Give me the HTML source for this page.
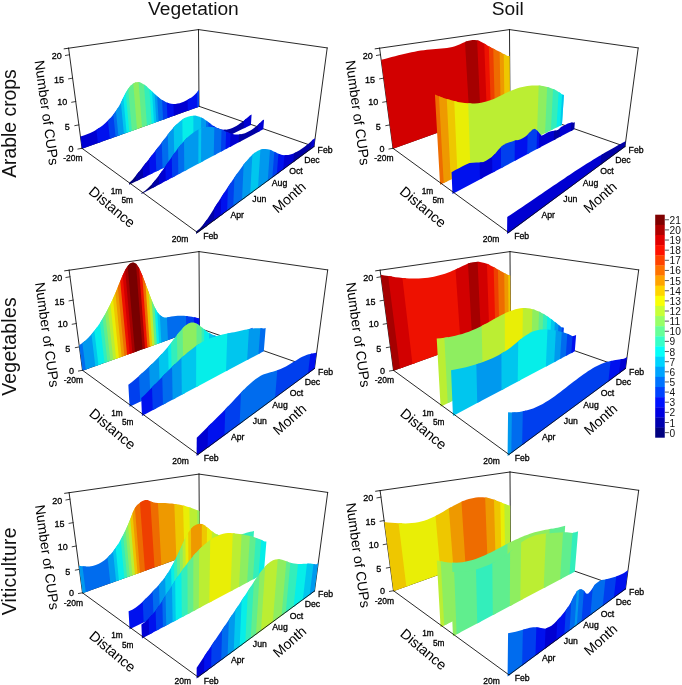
<!DOCTYPE html>
<html><head><meta charset="utf-8"><title>CUPs</title>
<style>html,body{margin:0;padding:0;background:#fff}svg{display:block}</style></head>
<body><svg width="682" height="685" viewBox="0 0 682 685">
<rect width="682" height="685" fill="#fff"/>
<g transform="translate(0.0,0.0)">
<line x1="68.60" y1="48.20" x2="82.00" y2="148.30" stroke="#111" stroke-width="0.90" stroke-linecap="round"/>
<line x1="68.60" y1="48.20" x2="198.50" y2="29.60" stroke="#111" stroke-width="0.90" stroke-linecap="round"/>
<line x1="198.50" y1="29.60" x2="199.00" y2="106.30" stroke="#111" stroke-width="0.90" stroke-linecap="round"/>
<line x1="198.50" y1="29.60" x2="327.20" y2="47.90" stroke="#111" stroke-width="0.90" stroke-linecap="round"/>
<line x1="327.20" y1="47.90" x2="314.00" y2="146.50" stroke="#111" stroke-width="0.90" stroke-linecap="round"/>
<line x1="82.00" y1="148.30" x2="199.00" y2="106.30" stroke="#111" stroke-width="0.90" stroke-linecap="round"/>
<line x1="199.00" y1="106.30" x2="314.00" y2="146.50" stroke="#111" stroke-width="0.90" stroke-linecap="round"/>
<line x1="82.00" y1="148.30" x2="77.90" y2="149.05" stroke="#111" stroke-width="0.80" stroke-linecap="round"/>
<line x1="78.87" y1="124.91" x2="74.77" y2="125.66" stroke="#111" stroke-width="0.80" stroke-linecap="round"/>
<line x1="75.74" y1="101.52" x2="71.64" y2="102.27" stroke="#111" stroke-width="0.80" stroke-linecap="round"/>
<line x1="72.61" y1="78.14" x2="68.51" y2="78.89" stroke="#111" stroke-width="0.80" stroke-linecap="round"/>
<line x1="69.48" y1="54.75" x2="65.38" y2="55.50" stroke="#111" stroke-width="0.80" stroke-linecap="round"/>
<line x1="68.60" y1="48.20" x2="64.10" y2="48.85" stroke="#111" stroke-width="0.90" stroke-linecap="round"/>
<polygon points="82.00,148.80 80.41,136.45 83.74,135.43 87.01,134.26 90.20,132.94 93.32,131.43 96.38,129.72 99.36,127.80 100.97,141.99" fill="#0000d2"/>
<polygon points="97.92,143.08 96.38,129.72 99.36,127.80 102.28,125.65 105.14,123.26 107.93,120.61 110.66,117.68 112.75,137.76" fill="#0011ee"/>
<polygon points="109.87,138.80 107.93,120.61 110.66,117.68 113.33,114.46 115.93,110.90 118.40,135.73" fill="#003fee"/>
<polygon points="115.59,136.74 113.33,114.46 115.93,110.90 118.47,106.93 121.16,134.74" fill="#006cee"/>
<polygon points="118.40,135.73 115.93,110.90 118.47,106.93 120.95,102.49 123.36,97.62 126.59,132.79" fill="#0099ee"/>
<polygon points="123.89,133.76 120.95,102.49 123.36,97.62 125.77,92.86 129.25,131.84" fill="#00c6ee"/>
<polygon points="126.59,132.79 123.36,97.62 125.77,92.86 128.22,88.77 131.87,130.90" fill="#06eee9"/>
<polygon points="129.25,131.84 125.77,92.86 128.22,88.77 130.73,85.59 134.46,129.97" fill="#33eebb"/>
<polygon points="131.87,130.90 128.22,88.77 130.73,85.59 133.29,83.38 135.91,82.20 139.54,128.15" fill="#60ee8e"/>
<polygon points="137.02,129.05 133.29,83.38 135.91,82.20 138.58,82.07 141.29,82.88 144.49,126.37" fill="#8eee60"/>
<polygon points="142.03,127.25 138.58,82.07 141.29,82.88 144.00,84.42 146.71,86.50 149.31,124.64" fill="#60ee8e"/>
<polygon points="146.91,125.50 144.00,84.42 146.71,86.50 149.40,88.92 152.04,91.49 154.02,122.95" fill="#33eebb"/>
<polygon points="151.68,123.79 149.40,88.92 152.04,91.49 154.64,94.02 156.33,122.12" fill="#06eee9"/>
<polygon points="154.02,122.95 152.04,91.49 154.64,94.02 157.18,96.34 158.61,121.30" fill="#00c6ee"/>
<polygon points="156.33,122.12 154.64,94.02 157.18,96.34 159.65,98.33 160.86,120.49" fill="#0099ee"/>
<polygon points="158.61,121.30 157.18,96.34 159.65,98.33 162.06,100.01 164.42,101.37 165.29,118.90" fill="#006cee"/>
<polygon points="163.09,119.69 162.06,100.01 164.42,101.37 166.73,102.44 168.99,103.22 169.61,117.35" fill="#003fee"/>
<polygon points="167.46,118.12 166.73,102.44 168.99,103.22 171.20,103.71 173.37,103.93 175.49,103.89 175.90,115.09" fill="#0011ee"/>
<polygon points="173.82,115.84 173.37,103.93 175.49,103.89 177.59,103.62 179.65,103.14 181.68,102.49 183.68,101.68 185.65,100.75 187.61,99.71 189.54,98.60 189.75,110.12" fill="#0000d2"/>
<polygon points="187.84,110.81 187.61,99.71 189.54,98.60 191.45,97.39 193.34,96.01 195.21,94.36 197.06,92.35 198.89,90.12 199.00,106.80" fill="#0011ee"/>
<polygon points="197.19,107.45 197.06,92.35 198.89,90.12 199.00,106.80" fill="#003fee"/>
<polygon points="129.08,184.81 129.00,182.93 132.55,179.74 135.97,175.42 139.35,171.15 139.74,179.58" fill="#000078"/>
<polygon points="136.25,181.29 135.97,175.42 139.35,171.15 142.68,166.95 145.97,162.79 146.54,176.24" fill="#0000a5"/>
<polygon points="143.17,177.89 142.68,166.95 145.97,162.79 149.21,158.67 152.41,154.58 153.10,173.01" fill="#0000d2"/>
<polygon points="149.85,174.61 149.21,158.67 152.41,154.58 155.56,150.52 158.68,146.47 159.44,169.89" fill="#0011ee"/>
<polygon points="156.30,171.44 155.56,150.52 158.68,146.47 161.75,142.43 164.79,138.41 165.58,166.88" fill="#003fee"/>
<polygon points="162.54,168.38 161.75,142.43 164.79,138.41 167.79,134.51 170.76,130.79 171.51,163.97" fill="#006cee"/>
<polygon points="168.57,165.41 167.79,134.51 170.76,130.79 173.70,127.36 176.61,124.28 177.25,161.15" fill="#0099ee"/>
<polygon points="174.40,162.55 173.70,127.36 176.61,124.28 179.48,121.64 182.33,119.49 185.14,117.84 185.52,157.08" fill="#00c6ee"/>
<polygon points="182.81,158.42 182.33,119.49 185.14,117.84 187.92,116.66 190.65,115.95 193.34,115.68 195.99,115.84 195.97,151.95" fill="#06eee9"/>
<polygon points="193.41,153.20 193.34,115.68 195.99,115.84 198.59,116.41 201.14,117.39 203.64,118.74 203.39,148.30" fill="#00c6ee"/>
<polygon points="200.95,149.50 201.14,117.39 203.64,118.74 206.08,120.38 208.48,122.18 208.16,145.96" fill="#0099ee"/>
<polygon points="205.79,147.12 206.08,120.38 208.48,122.18 210.82,123.98 210.49,144.81" fill="#006cee"/>
<polygon points="208.16,145.96 208.48,122.18 210.82,123.98 213.12,125.66 215.38,127.09 215.06,142.57" fill="#003fee"/>
<polygon points="212.79,143.68 213.12,125.66 215.38,127.09 217.60,128.20 219.78,129.00 219.49,140.39" fill="#0011ee"/>
<polygon points="217.29,141.47 217.60,128.20 219.78,129.00 221.94,129.50 224.06,129.72 226.16,129.66 225.92,137.24" fill="#0000d2"/>
<polygon points="223.80,138.27 224.06,129.72 226.16,129.66 228.23,129.35 230.28,128.79 232.32,128.03 234.33,127.08 236.32,125.96 238.30,124.71 240.25,123.35 242.19,121.90 244.12,120.38 246.02,118.81 245.52,127.60" fill="#0000a5"/>
<polygon points="243.68,128.51 244.12,120.38 246.02,118.81 247.91,117.22 249.78,115.62 251.60,114.40 250.92,124.95" fill="#0000d2"/>
<polygon points="141.45,193.91 141.44,193.11 145.10,190.81 148.65,187.59 152.13,183.88 155.53,179.79 155.72,186.34" fill="#000078"/>
<polygon points="152.25,188.18 152.13,183.88 155.53,179.79 158.88,175.41 162.17,170.85 162.47,182.77" fill="#0000a5"/>
<polygon points="159.12,184.54 158.88,175.41 162.17,170.85 165.41,166.18 168.61,161.50 168.97,179.31" fill="#0000d2"/>
<polygon points="165.75,181.02 165.41,166.18 168.61,161.50 171.77,156.91 174.90,152.47 175.25,175.98" fill="#0011ee"/>
<polygon points="172.14,177.63 171.77,156.91 174.90,152.47 177.98,148.28 181.03,144.41 181.32,172.77" fill="#003fee"/>
<polygon points="178.31,174.36 177.98,148.28 181.03,144.41 184.04,140.94 187.02,137.86 187.18,169.66" fill="#006cee"/>
<polygon points="184.27,171.20 184.04,140.94 187.02,137.86 189.95,135.18 192.85,132.89 195.70,130.97 198.50,129.42 201.26,128.23 201.00,162.33" fill="#0099ee"/>
<polygon points="198.32,163.74 198.50,129.42 201.26,128.23 203.98,127.39 203.63,160.93" fill="#00c6ee"/>
<polygon points="201.00,162.33 201.26,128.23 203.98,127.39 206.64,126.90 209.25,126.75 211.81,126.92 214.32,127.37 216.78,128.03 216.17,154.27" fill="#0099ee"/>
<polygon points="213.74,155.56 214.32,127.37 216.78,128.03 219.18,128.86 221.54,129.79 223.85,130.76 223.25,150.52" fill="#006cee"/>
<polygon points="220.92,151.75 221.54,129.79 223.85,130.76 226.11,131.72 228.33,132.62 227.79,148.11" fill="#003fee"/>
<polygon points="225.53,149.31 226.11,131.72 228.33,132.62 230.52,133.39 232.66,134.00 232.19,145.77" fill="#0011ee"/>
<polygon points="230.01,146.94 230.52,133.39 232.66,134.00 234.78,134.39 236.87,134.56 238.93,134.51 240.97,134.25 240.63,141.30" fill="#0000d2"/>
<polygon points="238.57,142.39 238.93,134.51 240.97,134.25 242.99,133.79 244.99,133.15 246.97,132.34 248.93,131.35 250.87,130.21 252.81,128.91 254.72,127.48 256.63,125.91 258.52,124.22 260.41,122.41 259.77,131.15" fill="#0000a5"/>
<polygon points="257.97,132.10 258.52,124.22 260.41,122.41 262.28,120.49 264.07,119.42 263.30,129.28" fill="#0000d2"/>
<polygon points="196.06,234.07 196.08,231.56 199.85,228.40 203.56,224.15 207.22,219.16 207.10,225.92" fill="#000078"/>
<polygon points="203.50,228.57 203.56,224.15 207.22,219.16 210.82,213.71 214.36,208.09 217.84,202.53 217.43,218.29" fill="#0000a5"/>
<polygon points="214.06,220.78 214.36,208.09 217.84,202.53 221.26,197.17 224.63,191.98 223.95,213.47" fill="#0000d2"/>
<polygon points="220.72,215.86 221.26,197.17 224.63,191.98 227.94,186.97 231.19,182.14 230.21,208.85" fill="#0011ee"/>
<polygon points="227.11,211.14 227.94,186.97 231.19,182.14 234.39,177.47 237.53,172.96 236.22,204.42" fill="#003fee"/>
<polygon points="233.24,206.61 234.39,177.47 237.53,172.96 240.62,168.64 243.66,164.60 246.63,160.89 244.79,198.09" fill="#006cee"/>
<polygon points="241.99,200.16 243.66,164.60 246.63,160.89 249.54,157.59 252.37,154.77 255.13,152.50 252.87,192.13" fill="#0099ee"/>
<polygon points="250.23,194.08 252.37,154.77 255.13,152.50 257.81,150.81 260.41,149.67 262.93,149.05 260.50,186.49" fill="#00c6ee"/>
<polygon points="258.01,188.33 260.41,149.67 262.93,149.05 265.36,148.90 267.71,149.19 269.98,149.85 272.18,150.76 270.05,179.44" fill="#0099ee"/>
<polygon points="267.73,181.16 269.98,149.85 272.18,150.76 274.32,151.80 276.41,152.84 274.57,176.10" fill="#006cee"/>
<polygon points="272.33,177.76 274.32,151.80 276.41,152.84 278.46,153.77 280.48,154.48 278.94,172.88" fill="#003fee"/>
<polygon points="276.78,174.48 278.46,153.77 280.48,154.48 282.47,154.93 284.45,155.14 286.40,155.11 285.22,168.25" fill="#0011ee"/>
<polygon points="283.16,169.77 284.45,155.14 286.40,155.11 288.33,154.89 290.25,154.48 292.14,153.90 294.02,153.17 295.88,152.30 295.01,161.02" fill="#0000d2"/>
<polygon points="293.11,162.42 294.02,153.17 295.88,152.30 297.72,151.32 299.55,150.23 301.35,149.05 303.14,147.79 304.92,146.47 306.67,145.10 308.41,143.69 310.12,142.25 311.82,140.79 313.50,139.33 312.40,148.18" fill="#0000a5"/>
<polygon points="310.78,149.38 311.82,140.79 313.50,139.33 315.12,138.13 314.00,147.00" fill="#0000d2"/>
<line x1="82.00" y1="148.30" x2="197.50" y2="232.50" stroke="#111" stroke-width="0.90" stroke-linecap="round"/>
<line x1="197.50" y1="232.50" x2="314.00" y2="146.50" stroke="#111" stroke-width="0.90" stroke-linecap="round"/>
<g fill="#000" font-family="Liberation Sans, Arial, Helvetica, sans-serif">
<text x="61.8" y="59.1" font-size="9.0" text-anchor="end" stroke="#000" stroke-width="0.3" >20</text>
<text x="64.1" y="82.6" font-size="9.0" text-anchor="end" stroke="#000" stroke-width="0.3" >15</text>
<text x="67.2" y="105.2" font-size="9.0" text-anchor="end" stroke="#000" stroke-width="0.3" >10</text>
<text x="69.8" y="130.1" font-size="9.0" text-anchor="end" stroke="#000" stroke-width="0.3" >5</text>
<text x="73.6" y="151.5" font-size="9.0" text-anchor="end" stroke="#000" stroke-width="0.3" >0</text>
<text x="72.9" y="161.4" font-size="8.5" text-anchor="middle" stroke="#000" stroke-width="0.3" >-20m</text>
<text x="116.5" y="193.9" font-size="8.3" text-anchor="middle" stroke="#000" stroke-width="0.3" >1m</text>
<text x="127.2" y="203.4" font-size="8.3" text-anchor="middle" stroke="#000" stroke-width="0.3" >5m</text>
<text x="180.0" y="241.7" font-size="8.5" text-anchor="middle" stroke="#000" stroke-width="0.3" >20m</text>
<text x="210.7" y="239.1" font-size="8.7" text-anchor="middle" stroke="#000" stroke-width="0.3" >Feb</text>
<text x="237.2" y="218.4" font-size="8.7" text-anchor="middle" stroke="#000" stroke-width="0.3" >Apr</text>
<text x="259.3" y="202.1" font-size="8.7" text-anchor="middle" stroke="#000" stroke-width="0.3" >Jun</text>
<text x="279.5" y="185.7" font-size="8.7" text-anchor="middle" stroke="#000" stroke-width="0.3" >Aug</text>
<text x="295.9" y="174.4" font-size="8.7" text-anchor="middle" stroke="#000" stroke-width="0.3" >Oct</text>
<text x="312.0" y="162.6" font-size="8.7" text-anchor="middle" stroke="#000" stroke-width="0.3" >Dec</text>
<text x="325.1" y="152.8" font-size="8.7" text-anchor="middle" stroke="#000" stroke-width="0.3" >Feb</text>
<text transform="translate(34.5,61) rotate(82)" font-size="14">Number of CUPs</text>
<text transform="translate(87.8,192.9) rotate(40)" font-size="14.2">Distance</text>
<text transform="translate(277.7,213.8) rotate(-41.5)" font-size="14">Month</text>
</g>
</g>
<g transform="translate(311.0,0.0)">
<line x1="68.60" y1="48.20" x2="82.00" y2="148.30" stroke="#111" stroke-width="0.90" stroke-linecap="round"/>
<line x1="68.60" y1="48.20" x2="198.50" y2="29.60" stroke="#111" stroke-width="0.90" stroke-linecap="round"/>
<line x1="198.50" y1="29.60" x2="199.00" y2="106.30" stroke="#111" stroke-width="0.90" stroke-linecap="round"/>
<line x1="198.50" y1="29.60" x2="327.20" y2="47.90" stroke="#111" stroke-width="0.90" stroke-linecap="round"/>
<line x1="327.20" y1="47.90" x2="314.00" y2="146.50" stroke="#111" stroke-width="0.90" stroke-linecap="round"/>
<line x1="82.00" y1="148.30" x2="199.00" y2="106.30" stroke="#111" stroke-width="0.90" stroke-linecap="round"/>
<line x1="199.00" y1="106.30" x2="314.00" y2="146.50" stroke="#111" stroke-width="0.90" stroke-linecap="round"/>
<line x1="82.00" y1="148.30" x2="77.90" y2="149.05" stroke="#111" stroke-width="0.80" stroke-linecap="round"/>
<line x1="78.87" y1="124.91" x2="74.77" y2="125.66" stroke="#111" stroke-width="0.80" stroke-linecap="round"/>
<line x1="75.74" y1="101.52" x2="71.64" y2="102.27" stroke="#111" stroke-width="0.80" stroke-linecap="round"/>
<line x1="72.61" y1="78.14" x2="68.51" y2="78.89" stroke="#111" stroke-width="0.80" stroke-linecap="round"/>
<line x1="69.48" y1="54.75" x2="65.38" y2="55.50" stroke="#111" stroke-width="0.80" stroke-linecap="round"/>
<line x1="68.60" y1="48.20" x2="64.10" y2="48.85" stroke="#111" stroke-width="0.90" stroke-linecap="round"/>
<polygon points="82.00,148.80 70.15,59.76 73.71,58.88 77.21,57.96 80.66,57.04 84.07,56.15 87.43,55.29 90.75,54.46 94.02,53.67 97.26,52.94 100.46,52.25 103.62,51.64 106.74,51.09 109.83,50.62 112.89,50.22 115.90,49.87 118.89,49.57 121.83,49.31 124.73,49.06 127.60,48.82 130.42,48.57 133.21,48.31 135.96,47.97 138.66,47.53 141.31,46.94 143.92,46.16 146.49,45.20 149.02,44.14 151.52,43.04 154.00,42.00 156.45,41.10 160.86,120.49" fill="#d20000"/>
<polygon points="158.61,121.30 154.00,42.00 156.45,41.10 158.89,40.40 161.32,39.98 163.73,39.91 166.13,40.28 168.52,41.11 171.73,116.59" fill="#a50000"/>
<polygon points="169.61,117.35 166.13,40.28 168.52,41.11 170.89,42.30 173.23,43.62 175.54,44.94 177.94,114.36" fill="#d20000"/>
<polygon points="175.90,115.09 173.23,43.62 175.54,44.94 177.81,46.20 180.04,47.40 181.97,112.91" fill="#ee1100"/>
<polygon points="179.97,113.63 177.81,46.20 180.04,47.40 182.23,48.54 184.40,49.66 185.90,111.50" fill="#ee3f00"/>
<polygon points="183.95,112.20 182.23,48.54 184.40,49.66 186.53,50.77 188.63,51.87 190.70,52.96 191.64,109.44" fill="#ee6c00"/>
<polygon points="189.75,110.12 188.63,51.87 190.70,52.96 192.74,54.00 194.75,54.98 195.36,108.11" fill="#ee9900"/>
<polygon points="193.51,108.77 192.74,54.00 194.75,54.98 196.73,55.88 198.67,55.95 199.00,106.80" fill="#eec700"/>
<polygon points="129.08,184.81 123.94,94.62 127.98,96.22 131.93,97.67 136.25,181.29" fill="#ee6c00"/>
<polygon points="132.70,183.04 127.98,96.22 131.93,97.67 135.79,98.98 139.56,100.12 143.17,177.89" fill="#ee9900"/>
<polygon points="139.74,179.58 135.79,98.98 139.56,100.12 143.25,101.11 146.86,101.92 149.85,174.61" fill="#eec700"/>
<polygon points="146.54,176.24 143.25,101.11 146.86,101.92 150.39,102.57 153.85,103.05 157.24,103.35 160.55,103.46 162.54,168.38" fill="#e9ee06"/>
<polygon points="159.44,169.89 157.24,103.35 160.55,103.46 163.80,103.39 166.99,103.14 170.12,102.70 173.19,102.08 176.20,101.29 179.16,100.34 182.08,99.23 184.95,97.95 187.77,96.57 190.56,95.14 193.30,93.74 196.01,92.44 198.67,91.25 201.30,90.17 203.89,89.21 206.44,88.35 208.95,87.61 211.43,86.97 213.86,86.44 216.26,86.02 218.62,85.71 220.94,85.50 223.23,85.39 225.47,85.38 227.68,85.48 229.85,85.68 228.00,136.21" fill="#bbee33"/>
<polygon points="225.92,137.24 227.68,85.48 229.85,85.68 231.98,85.99 234.07,86.39 236.12,86.89 238.14,87.49 236.05,132.26" fill="#8eee60"/>
<polygon points="234.08,133.23 236.12,86.89 238.14,87.49 240.11,88.18 242.05,88.98 243.95,89.87 241.81,129.43" fill="#60ee8e"/>
<polygon points="239.91,130.36 242.05,88.98 243.95,89.87 245.81,90.85 247.63,91.94 249.41,93.11 247.35,126.71" fill="#33eebb"/>
<polygon points="245.52,127.60 247.63,91.94 249.41,93.11 251.16,94.38 252.90,95.12 250.92,124.95" fill="#06eee9"/>
<polygon points="249.14,125.82 251.16,94.38 252.90,95.12 250.92,124.95" fill="#00c6ee"/>
<polygon points="141.45,193.91 140.56,172.13 144.29,170.11 147.94,168.16 151.53,166.32 155.05,164.55 158.52,163.10 161.96,162.77 165.33,162.61 168.63,162.50 171.87,162.14 172.14,177.63" fill="#0011ee"/>
<polygon points="168.97,179.31 168.63,162.50 171.87,162.14 175.02,160.72 178.12,158.85 181.16,156.75 184.14,153.69 184.27,171.20" fill="#0000d2"/>
<polygon points="181.32,172.77 181.16,156.75 184.14,153.69 187.08,149.92 189.98,147.08 192.85,144.72 192.84,166.65" fill="#0011ee"/>
<polygon points="190.03,168.14 189.98,147.08 192.85,144.72 195.66,143.37 198.44,142.32 201.16,141.39 203.84,140.61 206.47,140.13 206.22,159.56" fill="#003fee"/>
<polygon points="203.63,160.93 203.84,140.61 206.47,140.13 209.05,139.52 211.60,138.32 214.13,136.65 216.62,134.78 219.10,132.12 218.57,153.00" fill="#0011ee"/>
<polygon points="216.17,154.27 216.62,134.78 219.10,132.12 221.55,129.46 223.91,128.76 226.16,130.39 228.31,133.17 227.79,148.11" fill="#003fee"/>
<polygon points="225.53,149.31 226.16,130.39 228.31,133.17 230.42,135.82 230.01,146.94" fill="#0011ee"/>
<polygon points="227.79,148.11 228.31,133.17 230.42,135.82 232.63,134.73 234.82,133.38 236.98,132.14 239.09,131.40 241.14,131.11 243.15,130.81 245.14,130.48 244.67,139.15" fill="#0000d2"/>
<polygon points="242.67,140.22 243.15,130.81 245.14,130.48 247.12,129.69 249.14,128.00 251.12,126.42 250.53,136.05" fill="#0000a5"/>
<polygon points="248.60,137.07 249.14,128.00 251.12,126.42 253.04,125.44 254.93,124.50 256.79,123.62 258.61,123.02 260.39,122.62 262.11,122.66 261.54,130.20" fill="#0000d2"/>
<polygon points="259.77,131.15 260.39,122.62 262.11,122.66 263.84,122.20 263.30,129.28" fill="#0000a5"/>
<polygon points="196.06,234.07 196.25,216.93 200.06,214.42 203.77,211.95 207.41,209.53 210.96,207.14 214.44,204.80 217.84,202.50 221.17,200.24 224.44,198.01 227.63,195.84 230.76,193.70 233.82,191.60 236.83,189.55 239.77,187.54 242.66,185.57 245.49,183.65 248.26,181.76 250.98,179.92 253.65,178.13 256.27,176.37 258.84,174.66 261.36,173.00 263.83,171.37 266.25,169.79 268.64,168.25 270.97,166.75 273.27,165.29 275.52,163.87 277.73,162.48 279.91,161.13 282.04,159.82 284.14,158.54 286.20,157.29 288.22,156.08 290.21,154.89 292.16,153.74 291.19,163.84" fill="#0000d2"/>
<polygon points="289.23,165.28 290.21,154.89 292.16,153.74 294.08,152.62 295.96,151.52 297.82,150.46 299.64,149.42 301.43,148.41 303.19,147.42 304.92,146.46 306.62,145.53 308.29,144.62 309.94,143.73 311.55,142.87 313.14,142.03 314.73,141.01 314.00,147.00" fill="#0000a5"/>
<line x1="82.00" y1="148.30" x2="197.50" y2="232.50" stroke="#111" stroke-width="0.90" stroke-linecap="round"/>
<line x1="197.50" y1="232.50" x2="314.00" y2="146.50" stroke="#111" stroke-width="0.90" stroke-linecap="round"/>
<g fill="#000" font-family="Liberation Sans, Arial, Helvetica, sans-serif">
<text x="61.8" y="59.1" font-size="9.0" text-anchor="end" stroke="#000" stroke-width="0.3" >20</text>
<text x="64.1" y="82.6" font-size="9.0" text-anchor="end" stroke="#000" stroke-width="0.3" >15</text>
<text x="67.2" y="105.2" font-size="9.0" text-anchor="end" stroke="#000" stroke-width="0.3" >10</text>
<text x="69.8" y="130.1" font-size="9.0" text-anchor="end" stroke="#000" stroke-width="0.3" >5</text>
<text x="73.6" y="151.5" font-size="9.0" text-anchor="end" stroke="#000" stroke-width="0.3" >0</text>
<text x="72.9" y="161.4" font-size="8.5" text-anchor="middle" stroke="#000" stroke-width="0.3" >-20m</text>
<text x="116.5" y="193.9" font-size="8.3" text-anchor="middle" stroke="#000" stroke-width="0.3" >1m</text>
<text x="127.2" y="203.4" font-size="8.3" text-anchor="middle" stroke="#000" stroke-width="0.3" >5m</text>
<text x="180.0" y="241.7" font-size="8.5" text-anchor="middle" stroke="#000" stroke-width="0.3" >20m</text>
<text x="210.7" y="239.1" font-size="8.7" text-anchor="middle" stroke="#000" stroke-width="0.3" >Feb</text>
<text x="237.2" y="218.4" font-size="8.7" text-anchor="middle" stroke="#000" stroke-width="0.3" >Apr</text>
<text x="259.3" y="202.1" font-size="8.7" text-anchor="middle" stroke="#000" stroke-width="0.3" >Jun</text>
<text x="279.5" y="185.7" font-size="8.7" text-anchor="middle" stroke="#000" stroke-width="0.3" >Aug</text>
<text x="295.9" y="174.4" font-size="8.7" text-anchor="middle" stroke="#000" stroke-width="0.3" >Oct</text>
<text x="312.0" y="162.6" font-size="8.7" text-anchor="middle" stroke="#000" stroke-width="0.3" >Dec</text>
<text x="325.1" y="152.8" font-size="8.7" text-anchor="middle" stroke="#000" stroke-width="0.3" >Feb</text>
<text transform="translate(34.5,61) rotate(82)" font-size="14">Number of CUPs</text>
<text transform="translate(87.8,192.9) rotate(40)" font-size="14.2">Distance</text>
<text transform="translate(277.7,213.8) rotate(-41.5)" font-size="14">Month</text>
</g>
</g>
<g transform="translate(0.5,222.0)">
<line x1="68.60" y1="48.20" x2="82.00" y2="148.30" stroke="#111" stroke-width="0.90" stroke-linecap="round"/>
<line x1="68.60" y1="48.20" x2="198.50" y2="29.60" stroke="#111" stroke-width="0.90" stroke-linecap="round"/>
<line x1="198.50" y1="29.60" x2="199.00" y2="106.30" stroke="#111" stroke-width="0.90" stroke-linecap="round"/>
<line x1="198.50" y1="29.60" x2="327.20" y2="47.90" stroke="#111" stroke-width="0.90" stroke-linecap="round"/>
<line x1="327.20" y1="47.90" x2="314.00" y2="146.50" stroke="#111" stroke-width="0.90" stroke-linecap="round"/>
<line x1="82.00" y1="148.30" x2="199.00" y2="106.30" stroke="#111" stroke-width="0.90" stroke-linecap="round"/>
<line x1="199.00" y1="106.30" x2="314.00" y2="146.50" stroke="#111" stroke-width="0.90" stroke-linecap="round"/>
<line x1="82.00" y1="148.30" x2="77.90" y2="149.05" stroke="#111" stroke-width="0.80" stroke-linecap="round"/>
<line x1="78.87" y1="124.91" x2="74.77" y2="125.66" stroke="#111" stroke-width="0.80" stroke-linecap="round"/>
<line x1="75.74" y1="101.52" x2="71.64" y2="102.27" stroke="#111" stroke-width="0.80" stroke-linecap="round"/>
<line x1="72.61" y1="78.14" x2="68.51" y2="78.89" stroke="#111" stroke-width="0.80" stroke-linecap="round"/>
<line x1="69.48" y1="54.75" x2="65.38" y2="55.50" stroke="#111" stroke-width="0.80" stroke-linecap="round"/>
<line x1="68.60" y1="48.20" x2="64.10" y2="48.85" stroke="#111" stroke-width="0.90" stroke-linecap="round"/>
<polygon points="82.00,148.80 78.64,123.22 81.86,121.02 84.97,118.41 88.51,146.46" fill="#006cee"/>
<polygon points="85.28,147.62 81.86,121.02 84.97,118.41 88.01,115.50 90.97,112.29 93.86,108.78 97.92,143.08" fill="#0099ee"/>
<polygon points="94.83,144.19 90.97,112.29 93.86,108.78 96.68,104.99 100.97,141.99" fill="#00c6ee"/>
<polygon points="97.92,143.08 93.86,108.78 96.68,104.99 99.45,100.91 102.15,96.57 106.94,139.85" fill="#06eee9"/>
<polygon points="103.98,140.91 99.45,100.91 102.15,96.57 104.80,91.95 109.87,138.80" fill="#33eebb"/>
<polygon points="106.94,139.85 102.15,96.57 104.80,91.95 107.40,87.07 112.75,137.76" fill="#60ee8e"/>
<polygon points="109.87,138.80 104.80,91.95 107.40,87.07 109.95,81.93 115.59,136.74" fill="#8eee60"/>
<polygon points="112.75,137.76 107.40,87.07 109.95,81.93 112.46,76.53 118.40,135.73" fill="#bbee33"/>
<polygon points="115.59,136.74 109.95,81.93 112.46,76.53 114.92,70.89 121.16,134.74" fill="#e9ee06"/>
<polygon points="118.40,135.73 112.46,76.53 114.92,70.89 117.35,65.00 123.89,133.76" fill="#eec700"/>
<polygon points="121.16,134.74 114.92,70.89 117.35,65.00 119.76,58.98 126.59,132.79" fill="#ee9900"/>
<polygon points="123.89,133.76 117.35,65.00 119.76,58.98 122.18,53.20 129.25,131.84" fill="#ee6c00"/>
<polygon points="126.59,132.79 119.76,58.98 122.18,53.20 124.64,48.04 131.87,130.90" fill="#ee1100"/>
<polygon points="129.25,131.84 122.18,53.20 124.64,48.04 127.18,43.91 134.46,129.97" fill="#d20000"/>
<polygon points="131.87,130.90 124.64,48.04 127.18,43.91 129.81,41.17 137.02,129.05" fill="#a50000"/>
<polygon points="134.46,129.97 127.18,43.91 129.81,41.17 132.57,40.20 135.46,41.54 138.55,46.11 144.49,126.37" fill="#780000"/>
<polygon points="142.03,127.25 135.46,41.54 138.55,46.11 141.77,53.29 146.91,125.50" fill="#a50000"/>
<polygon points="144.49,126.37 138.55,46.11 141.77,53.29 144.99,61.66 149.31,124.64" fill="#ee1100"/>
<polygon points="146.91,125.50 141.77,53.29 144.99,61.66 148.16,70.28 151.68,123.79" fill="#ee6c00"/>
<polygon points="149.31,124.64 144.99,61.66 148.16,70.28 151.20,78.34 154.02,122.95" fill="#eec700"/>
<polygon points="151.68,123.79 148.16,70.28 151.20,78.34 154.09,85.06 156.33,122.12" fill="#bbee33"/>
<polygon points="154.02,122.95 151.20,78.34 154.09,85.06 156.80,89.89 158.61,121.30" fill="#60ee8e"/>
<polygon points="156.33,122.12 154.09,85.06 156.80,89.89 159.35,93.02 160.86,120.49" fill="#06eee9"/>
<polygon points="158.61,121.30 156.80,89.89 159.35,93.02 161.79,94.78 163.09,119.69" fill="#00c6ee"/>
<polygon points="160.86,120.49 159.35,93.02 161.79,94.78 164.13,95.50 166.40,95.50 168.62,95.09 169.61,117.35" fill="#0099ee"/>
<polygon points="167.46,118.12 166.40,95.50 168.62,95.09 170.81,94.58 172.97,94.18 175.12,93.89 177.24,93.72 179.34,93.65 181.41,93.67 183.46,93.77 185.49,93.94 187.48,94.18 187.84,110.81" fill="#006cee"/>
<polygon points="185.90,111.50 185.49,93.94 187.48,94.18 189.46,94.48 191.41,94.82 193.33,95.21 195.22,95.62 195.36,108.11" fill="#003fee"/>
<polygon points="193.51,108.77 193.33,95.21 195.22,95.62 197.09,96.06 198.94,96.34 199.00,106.80" fill="#0011ee"/>
<polygon points="129.08,184.81 127.84,162.74 131.47,160.03 135.01,156.98 138.50,153.90 141.93,150.81 143.17,177.89" fill="#003fee"/>
<polygon points="139.74,179.58 138.50,153.90 141.93,150.81 145.30,147.69 148.63,144.57 151.90,141.43 153.10,173.01" fill="#006cee"/>
<polygon points="149.85,174.61 148.63,144.57 151.90,141.43 155.12,138.28 158.30,135.08 161.42,131.79 162.54,168.38" fill="#0099ee"/>
<polygon points="159.44,169.89 158.30,135.08 161.42,131.79 164.50,128.36 167.54,124.74 170.53,120.92 171.51,163.97" fill="#00c6ee"/>
<polygon points="168.57,165.41 167.54,124.74 170.53,120.92 173.49,116.97 174.40,162.55" fill="#06eee9"/>
<polygon points="171.51,163.97 170.53,120.92 173.49,116.97 176.41,113.08 179.30,109.42 180.05,159.77" fill="#33eebb"/>
<polygon points="177.25,161.15 176.41,113.08 179.30,109.42 182.17,106.17 185.00,103.49 185.52,157.08" fill="#60ee8e"/>
<polygon points="182.81,158.42 182.17,106.17 185.00,103.49 187.81,101.55 190.58,100.51 193.31,100.51 196.00,101.51 198.63,103.21 198.48,150.72" fill="#8eee60"/>
<polygon points="195.97,151.95 196.00,101.51 198.63,103.21 201.21,105.30 203.73,107.45 203.39,148.30" fill="#60ee8e"/>
<polygon points="200.95,149.50 201.21,105.30 203.73,107.45 206.21,109.38 205.79,147.12" fill="#33eebb"/>
<polygon points="203.39,148.30 203.73,107.45 206.21,109.38 208.63,110.98 211.01,112.27 210.49,144.81" fill="#06eee9"/>
<polygon points="208.16,145.96 208.63,110.98 211.01,112.27 213.36,113.26 215.66,113.96 215.06,142.57" fill="#00c6ee"/>
<polygon points="212.79,143.68 213.36,113.26 215.66,113.96 217.93,114.40 220.17,114.58 222.37,114.54 221.66,139.32" fill="#0099ee"/>
<polygon points="219.49,140.39 220.17,114.58 222.37,114.54 224.55,114.29 226.70,113.89 228.82,113.37 230.92,112.77 232.99,112.12 235.02,111.47 237.04,110.84 239.02,110.25 240.97,109.68 242.89,109.12 244.80,108.54 246.67,107.93 248.53,107.26 247.35,126.71" fill="#006cee"/>
<polygon points="245.52,127.60 246.67,107.93 248.53,107.26 250.37,106.51 252.19,105.73 250.92,124.95" fill="#003fee"/>
<polygon points="141.45,193.91 140.73,176.05 144.39,172.69 147.97,169.01 151.50,165.36 154.97,161.75 155.72,186.34" fill="#0011ee"/>
<polygon points="152.25,188.18 151.50,165.36 154.97,161.75 158.38,158.20 161.75,154.72 165.07,151.32 165.75,181.02" fill="#003fee"/>
<polygon points="162.47,182.77 161.75,154.72 165.07,151.32 168.33,148.00 171.55,144.79 174.73,141.69 175.25,175.98" fill="#006cee"/>
<polygon points="172.14,177.63 171.55,144.79 174.73,141.69 177.86,138.71 180.94,135.86 183.98,133.15 184.27,171.20" fill="#0099ee"/>
<polygon points="181.32,172.77 180.94,135.86 183.98,133.15 186.98,130.59 189.94,128.18 192.85,125.94 195.72,123.87 198.54,121.98 198.32,163.74" fill="#00c6ee"/>
<polygon points="195.61,165.19 195.72,123.87 198.54,121.98 201.33,120.29 204.07,118.79 206.76,117.48 209.42,116.36 212.03,115.38 214.59,114.54 217.11,113.81 219.59,113.17 222.03,112.59 224.43,112.07 226.79,111.58 229.12,111.10 227.79,148.11" fill="#06eee9"/>
<polygon points="225.53,149.31 226.79,111.58 229.12,111.10 231.40,110.62 233.66,110.13 235.87,109.64 238.06,109.15 240.21,108.68 242.32,108.22 244.40,107.80 246.45,107.40 248.47,107.05 250.46,106.75 248.60,137.07" fill="#00c6ee"/>
<polygon points="246.65,138.10 248.47,107.05 250.46,106.75 252.41,106.50 254.32,106.31 256.21,106.19 258.06,106.14 259.87,106.17 261.65,106.28 259.77,131.15" fill="#0099ee"/>
<polygon points="257.97,132.10 259.87,106.17 261.65,106.28 263.40,106.48 265.18,105.91 263.30,129.28" fill="#006cee"/>
<polygon points="196.06,234.07 196.27,215.73 200.09,211.93 203.84,208.22 207.50,204.61 211.10,201.06 210.61,223.32" fill="#0000d2"/>
<polygon points="207.10,225.92 207.50,204.61 211.10,201.06 214.62,197.57 218.07,194.12 221.46,190.69 224.78,187.28 228.05,183.86 227.11,211.14" fill="#0011ee"/>
<polygon points="223.95,213.47 224.78,187.28 228.05,183.86 231.25,180.45 234.41,177.06 237.50,173.75 240.54,170.55 243.52,167.48 241.99,200.16" fill="#003fee"/>
<polygon points="239.13,202.27 240.54,170.55 243.52,167.48 246.44,164.59 249.31,161.91 252.11,159.46 254.86,157.28 257.54,155.40 260.15,153.84 262.69,152.62 265.17,151.68 267.59,150.94 269.95,150.31 272.26,149.72 274.54,149.09 276.78,148.36 278.98,147.52 276.78,174.48" fill="#006cee"/>
<polygon points="274.57,176.10 276.78,148.36 278.98,147.52 281.16,146.57 283.30,145.55 285.42,144.44 287.51,143.28 289.56,142.07 291.59,140.83 293.59,139.59 295.55,138.38 297.48,137.21 299.38,136.11 301.23,135.11 303.04,134.22 304.81,133.46 306.54,132.84 308.22,132.32 309.87,131.91 311.47,131.58 309.13,150.59" fill="#003fee"/>
<polygon points="307.46,151.83 309.87,131.91 311.47,131.58 313.04,131.32 314.58,131.11 316.15,130.45 314.00,147.00" fill="#0011ee"/>
<line x1="82.00" y1="148.30" x2="197.50" y2="232.50" stroke="#111" stroke-width="0.90" stroke-linecap="round"/>
<line x1="197.50" y1="232.50" x2="314.00" y2="146.50" stroke="#111" stroke-width="0.90" stroke-linecap="round"/>
<g fill="#000" font-family="Liberation Sans, Arial, Helvetica, sans-serif">
<text x="61.8" y="59.1" font-size="9.0" text-anchor="end" stroke="#000" stroke-width="0.3" >20</text>
<text x="64.1" y="82.6" font-size="9.0" text-anchor="end" stroke="#000" stroke-width="0.3" >15</text>
<text x="67.2" y="105.2" font-size="9.0" text-anchor="end" stroke="#000" stroke-width="0.3" >10</text>
<text x="69.8" y="130.1" font-size="9.0" text-anchor="end" stroke="#000" stroke-width="0.3" >5</text>
<text x="73.6" y="151.5" font-size="9.0" text-anchor="end" stroke="#000" stroke-width="0.3" >0</text>
<text x="72.9" y="161.4" font-size="8.5" text-anchor="middle" stroke="#000" stroke-width="0.3" >-20m</text>
<text x="116.5" y="193.9" font-size="8.3" text-anchor="middle" stroke="#000" stroke-width="0.3" >1m</text>
<text x="127.2" y="203.4" font-size="8.3" text-anchor="middle" stroke="#000" stroke-width="0.3" >5m</text>
<text x="180.0" y="241.7" font-size="8.5" text-anchor="middle" stroke="#000" stroke-width="0.3" >20m</text>
<text x="210.7" y="239.1" font-size="8.7" text-anchor="middle" stroke="#000" stroke-width="0.3" >Feb</text>
<text x="237.2" y="218.4" font-size="8.7" text-anchor="middle" stroke="#000" stroke-width="0.3" >Apr</text>
<text x="259.3" y="202.1" font-size="8.7" text-anchor="middle" stroke="#000" stroke-width="0.3" >Jun</text>
<text x="279.5" y="185.7" font-size="8.7" text-anchor="middle" stroke="#000" stroke-width="0.3" >Aug</text>
<text x="295.9" y="174.4" font-size="8.7" text-anchor="middle" stroke="#000" stroke-width="0.3" >Oct</text>
<text x="312.0" y="162.6" font-size="8.7" text-anchor="middle" stroke="#000" stroke-width="0.3" >Dec</text>
<text x="325.1" y="152.8" font-size="8.7" text-anchor="middle" stroke="#000" stroke-width="0.3" >Feb</text>
<text transform="translate(34.5,61) rotate(82)" font-size="14">Number of CUPs</text>
<text transform="translate(87.8,192.9) rotate(40)" font-size="14.2">Distance</text>
<text transform="translate(277.7,213.8) rotate(-41.5)" font-size="14">Month</text>
</g>
</g>
<g transform="translate(311.5,222.0)">
<line x1="68.60" y1="48.20" x2="82.00" y2="148.30" stroke="#111" stroke-width="0.90" stroke-linecap="round"/>
<line x1="68.60" y1="48.20" x2="198.50" y2="29.60" stroke="#111" stroke-width="0.90" stroke-linecap="round"/>
<line x1="198.50" y1="29.60" x2="199.00" y2="106.30" stroke="#111" stroke-width="0.90" stroke-linecap="round"/>
<line x1="198.50" y1="29.60" x2="327.20" y2="47.90" stroke="#111" stroke-width="0.90" stroke-linecap="round"/>
<line x1="327.20" y1="47.90" x2="314.00" y2="146.50" stroke="#111" stroke-width="0.90" stroke-linecap="round"/>
<line x1="82.00" y1="148.30" x2="199.00" y2="106.30" stroke="#111" stroke-width="0.90" stroke-linecap="round"/>
<line x1="199.00" y1="106.30" x2="314.00" y2="146.50" stroke="#111" stroke-width="0.90" stroke-linecap="round"/>
<line x1="82.00" y1="148.30" x2="77.90" y2="149.05" stroke="#111" stroke-width="0.80" stroke-linecap="round"/>
<line x1="78.87" y1="124.91" x2="74.77" y2="125.66" stroke="#111" stroke-width="0.80" stroke-linecap="round"/>
<line x1="75.74" y1="101.52" x2="71.64" y2="102.27" stroke="#111" stroke-width="0.80" stroke-linecap="round"/>
<line x1="72.61" y1="78.14" x2="68.51" y2="78.89" stroke="#111" stroke-width="0.80" stroke-linecap="round"/>
<line x1="69.48" y1="54.75" x2="65.38" y2="55.50" stroke="#111" stroke-width="0.80" stroke-linecap="round"/>
<line x1="68.60" y1="48.20" x2="64.10" y2="48.85" stroke="#111" stroke-width="0.90" stroke-linecap="round"/>
<polygon points="82.00,148.80 69.21,52.74 72.99,53.40 76.71,54.04 80.36,54.62 91.69,145.32" fill="#a50000"/>
<polygon points="88.51,146.46 76.71,54.04 80.36,54.62 83.94,55.13 87.46,55.58 90.92,55.95 94.32,56.25 103.98,140.91" fill="#d20000"/>
<polygon points="100.97,141.99 90.92,55.95 94.32,56.25 97.66,56.46 100.93,56.58 104.15,56.61 107.31,56.54 110.42,56.37 113.47,56.10 116.47,55.73 119.42,55.27 122.32,54.72 125.17,54.08 127.98,53.36 130.75,52.55 133.48,51.68 136.17,50.73 138.82,49.71 141.43,48.62 144.01,47.46 146.56,46.25 151.68,123.79" fill="#ee1100"/>
<polygon points="149.31,124.64 144.01,47.46 146.56,46.25 149.08,45.00 151.57,43.78 154.03,42.63 156.48,41.62 158.91,40.80 163.09,119.69" fill="#d20000"/>
<polygon points="160.86,120.49 156.48,41.62 158.91,40.80 161.33,40.23 163.73,39.92 166.11,39.87 168.48,40.05 171.73,116.59" fill="#a50000"/>
<polygon points="169.61,117.35 166.11,39.87 168.48,40.05 170.82,40.45 173.14,41.06 175.43,41.86 177.70,42.81 179.97,113.63" fill="#d20000"/>
<polygon points="177.94,114.36 175.43,41.86 177.70,42.81 179.93,43.88 182.14,45.03 184.31,46.22 185.90,111.50" fill="#ee1100"/>
<polygon points="183.95,112.20 182.14,45.03 184.31,46.22 186.46,47.43 188.57,48.63 189.75,110.12" fill="#ee3f00"/>
<polygon points="187.84,110.81 186.46,47.43 188.57,48.63 190.65,49.81 192.70,50.96 194.71,52.06 195.36,108.11" fill="#ee6c00"/>
<polygon points="193.51,108.77 192.70,50.96 194.71,52.06 196.70,53.09 198.66,53.60 199.00,106.80" fill="#ee9900"/>
<polygon points="197.19,107.45 196.70,53.09 198.66,53.60 199.00,106.80" fill="#eec700"/>
<polygon points="129.08,184.81 125.20,116.57 129.07,116.18 132.87,115.70 136.59,115.14 139.74,179.58" fill="#bbee33"/>
<polygon points="136.25,181.29 132.87,115.70 136.59,115.14 140.23,114.47 143.81,113.71 147.31,112.85 150.75,111.88 154.13,110.82 157.45,109.64 160.70,108.36 163.90,106.96 167.05,105.47 170.14,103.90 173.19,102.28 174.40,162.55" fill="#8eee60"/>
<polygon points="171.51,163.97 170.14,103.90 173.19,102.28 176.19,100.63 179.14,98.98 182.06,97.34 184.93,95.74 187.76,94.21 190.55,92.76 193.30,91.41 196.01,90.18 195.97,151.95" fill="#bbee33"/>
<polygon points="193.41,153.20 193.30,91.41 196.01,90.18 198.68,89.08 201.31,88.14 203.90,87.35 206.46,86.74 208.97,86.31 211.44,86.09 213.87,86.07 212.79,143.68" fill="#e9ee06"/>
<polygon points="210.49,144.81 211.44,86.09 213.87,86.07 216.26,86.24 218.60,86.60 220.90,87.13 223.15,87.81 221.66,139.32" fill="#bbee33"/>
<polygon points="219.49,140.39 220.90,87.13 223.15,87.81 225.37,88.63 227.54,89.57 229.66,90.63 228.00,136.21" fill="#8eee60"/>
<polygon points="225.92,137.24 227.54,89.57 229.66,90.63 231.75,91.78 233.79,93.02 232.08,134.21" fill="#60ee8e"/>
<polygon points="230.05,135.20 231.75,91.78 233.79,93.02 235.79,94.32 237.75,95.68 236.05,132.26" fill="#33eebb"/>
<polygon points="234.08,133.23 235.79,94.32 237.75,95.68 239.67,97.07 241.55,98.49 239.91,130.36" fill="#06eee9"/>
<polygon points="237.99,131.30 239.67,97.07 241.55,98.49 243.40,99.93 245.21,101.36 243.68,128.51" fill="#00c6ee"/>
<polygon points="241.81,129.43 243.40,99.93 245.21,101.36 246.98,102.79 248.72,104.18 247.35,126.71" fill="#0099ee"/>
<polygon points="245.52,127.60 246.98,102.79 248.72,104.18 250.43,105.55 252.18,105.78 250.92,124.95" fill="#006cee"/>
<polygon points="249.14,125.82 250.43,105.55 252.18,105.78 250.92,124.95" fill="#003fee"/>
<polygon points="141.45,193.91 139.56,148.19 143.40,147.55 147.16,146.84 150.84,146.06 154.45,145.22 157.99,144.30 161.45,143.33 164.85,142.28 168.19,141.18 168.97,179.31" fill="#00c6ee"/>
<polygon points="165.75,181.02 164.85,142.28 168.19,141.18 171.47,140.01 174.68,138.79 177.84,137.50 180.95,136.15 184.00,134.72 186.99,133.20 189.94,131.57 192.85,129.81 192.84,166.65" fill="#0099ee"/>
<polygon points="190.03,168.14 189.94,131.57 192.85,129.81 195.71,127.92 198.52,125.88 201.30,123.71 204.04,121.46 206.74,119.21 209.41,117.02 208.76,158.20" fill="#00c6ee"/>
<polygon points="206.22,159.56 206.74,119.21 209.41,117.02 212.03,114.99 214.62,113.20 217.16,111.65 219.67,110.35 222.13,109.30 224.55,108.49 226.92,107.92 229.25,107.56 231.53,107.39 233.77,107.37 235.97,107.47 238.13,107.67 236.47,143.50" fill="#06eee9"/>
<polygon points="234.35,144.63 235.97,107.47 238.13,107.67 240.24,107.93 242.32,108.25 244.36,108.60 246.36,109.01 244.67,139.15" fill="#00c6ee"/>
<polygon points="242.67,140.22 244.36,108.60 246.36,109.01 248.33,109.45 250.26,109.95 252.15,110.51 250.53,136.05" fill="#0099ee"/>
<polygon points="248.60,137.07 250.26,109.95 252.15,110.51 254.00,111.11 255.82,111.78 257.60,112.51 256.15,133.07" fill="#006cee"/>
<polygon points="254.30,134.05 255.82,111.78 257.60,112.51 259.34,113.30 261.04,114.16 262.81,113.78 261.54,130.20" fill="#003fee"/>
<polygon points="259.77,131.15 261.04,114.16 262.81,113.78 264.60,112.95 263.30,129.28" fill="#0011ee"/>
<polygon points="196.06,234.07 196.57,190.37 200.40,190.45 204.14,190.29 203.50,228.57" fill="#0099ee"/>
<polygon points="199.82,231.29 200.40,190.45 204.14,190.29 207.79,189.92 211.35,189.34 214.84,188.55 214.06,220.78" fill="#006cee"/>
<polygon points="210.61,223.32 211.35,189.34 214.84,188.55 218.25,187.57 221.58,186.41 224.85,185.07 228.06,183.56 231.20,181.90 234.28,180.11 237.31,178.21 240.28,176.23 243.20,174.18 246.07,172.08 248.88,169.96 251.65,167.83 254.37,165.71 257.04,163.61 259.66,161.56 262.24,159.57 264.76,157.64 267.24,155.78 269.68,153.99 272.07,152.28 274.41,150.65 276.71,149.11 278.97,147.66 281.18,146.31 283.35,145.06 285.47,143.92 287.54,142.88 289.58,141.95 291.56,141.15 293.50,140.45 295.40,139.87 297.25,139.39 299.06,138.97 300.84,138.63 298.71,158.29" fill="#003fee"/>
<polygon points="296.87,159.64 299.06,138.97 300.84,138.63 302.58,138.33 304.28,138.06 305.95,137.81 307.59,137.57 309.20,137.32 310.78,137.05 309.13,150.59" fill="#0011ee"/>
<polygon points="307.46,151.83 309.20,137.32 310.78,137.05 312.34,136.75 313.92,136.11 315.54,135.01 314.00,147.00" fill="#0000d2"/>
<line x1="82.00" y1="148.30" x2="197.50" y2="232.50" stroke="#111" stroke-width="0.90" stroke-linecap="round"/>
<line x1="197.50" y1="232.50" x2="314.00" y2="146.50" stroke="#111" stroke-width="0.90" stroke-linecap="round"/>
<g fill="#000" font-family="Liberation Sans, Arial, Helvetica, sans-serif">
<text x="61.8" y="59.1" font-size="9.0" text-anchor="end" stroke="#000" stroke-width="0.3" >20</text>
<text x="64.1" y="82.6" font-size="9.0" text-anchor="end" stroke="#000" stroke-width="0.3" >15</text>
<text x="67.2" y="105.2" font-size="9.0" text-anchor="end" stroke="#000" stroke-width="0.3" >10</text>
<text x="69.8" y="130.1" font-size="9.0" text-anchor="end" stroke="#000" stroke-width="0.3" >5</text>
<text x="73.6" y="151.5" font-size="9.0" text-anchor="end" stroke="#000" stroke-width="0.3" >0</text>
<text x="72.9" y="161.4" font-size="8.5" text-anchor="middle" stroke="#000" stroke-width="0.3" >-20m</text>
<text x="116.5" y="193.9" font-size="8.3" text-anchor="middle" stroke="#000" stroke-width="0.3" >1m</text>
<text x="127.2" y="203.4" font-size="8.3" text-anchor="middle" stroke="#000" stroke-width="0.3" >5m</text>
<text x="180.0" y="241.7" font-size="8.5" text-anchor="middle" stroke="#000" stroke-width="0.3" >20m</text>
<text x="210.7" y="239.1" font-size="8.7" text-anchor="middle" stroke="#000" stroke-width="0.3" >Feb</text>
<text x="237.2" y="218.4" font-size="8.7" text-anchor="middle" stroke="#000" stroke-width="0.3" >Apr</text>
<text x="259.3" y="202.1" font-size="8.7" text-anchor="middle" stroke="#000" stroke-width="0.3" >Jun</text>
<text x="279.5" y="185.7" font-size="8.7" text-anchor="middle" stroke="#000" stroke-width="0.3" >Aug</text>
<text x="295.9" y="174.4" font-size="8.7" text-anchor="middle" stroke="#000" stroke-width="0.3" >Oct</text>
<text x="312.0" y="162.6" font-size="8.7" text-anchor="middle" stroke="#000" stroke-width="0.3" >Dec</text>
<text x="325.1" y="152.8" font-size="8.7" text-anchor="middle" stroke="#000" stroke-width="0.3" >Feb</text>
<text transform="translate(34.5,61) rotate(82)" font-size="14">Number of CUPs</text>
<text transform="translate(87.8,192.9) rotate(40)" font-size="14.2">Distance</text>
<text transform="translate(277.7,213.8) rotate(-41.5)" font-size="14">Month</text>
</g>
</g>
<g transform="translate(0.5,444.5)">
<line x1="68.60" y1="48.20" x2="82.00" y2="148.30" stroke="#111" stroke-width="0.90" stroke-linecap="round"/>
<line x1="68.60" y1="48.20" x2="198.50" y2="29.60" stroke="#111" stroke-width="0.90" stroke-linecap="round"/>
<line x1="198.50" y1="29.60" x2="199.00" y2="106.30" stroke="#111" stroke-width="0.90" stroke-linecap="round"/>
<line x1="198.50" y1="29.60" x2="327.20" y2="47.90" stroke="#111" stroke-width="0.90" stroke-linecap="round"/>
<line x1="327.20" y1="47.90" x2="314.00" y2="146.50" stroke="#111" stroke-width="0.90" stroke-linecap="round"/>
<line x1="82.00" y1="148.30" x2="199.00" y2="106.30" stroke="#111" stroke-width="0.90" stroke-linecap="round"/>
<line x1="199.00" y1="106.30" x2="314.00" y2="146.50" stroke="#111" stroke-width="0.90" stroke-linecap="round"/>
<line x1="82.00" y1="148.30" x2="77.90" y2="149.05" stroke="#111" stroke-width="0.80" stroke-linecap="round"/>
<line x1="78.87" y1="124.91" x2="74.77" y2="125.66" stroke="#111" stroke-width="0.80" stroke-linecap="round"/>
<line x1="75.74" y1="101.52" x2="71.64" y2="102.27" stroke="#111" stroke-width="0.80" stroke-linecap="round"/>
<line x1="72.61" y1="78.14" x2="68.51" y2="78.89" stroke="#111" stroke-width="0.80" stroke-linecap="round"/>
<line x1="69.48" y1="54.75" x2="65.38" y2="55.50" stroke="#111" stroke-width="0.80" stroke-linecap="round"/>
<line x1="68.60" y1="48.20" x2="64.10" y2="48.85" stroke="#111" stroke-width="0.90" stroke-linecap="round"/>
<polygon points="82.00,148.80 78.37,121.15 81.94,121.64 85.43,122.02 88.51,146.46" fill="#0099ee"/>
<polygon points="85.28,147.62 81.94,121.64 85.43,122.02 88.82,121.96 92.10,121.48 95.28,120.58 98.36,119.26 101.35,117.55 104.26,115.45 107.10,112.97 109.85,110.11 112.75,137.76" fill="#006cee"/>
<polygon points="109.87,138.80 107.10,112.97 109.85,110.11 112.54,106.89 115.17,103.31 118.40,135.73" fill="#0099ee"/>
<polygon points="115.59,136.74 112.54,106.89 115.17,103.31 117.73,99.39 121.16,134.74" fill="#00c6ee"/>
<polygon points="118.40,135.73 115.17,103.31 117.73,99.39 120.24,95.12 122.70,90.51 126.59,132.79" fill="#06eee9"/>
<polygon points="123.89,133.76 120.24,95.12 122.70,90.51 125.11,85.55 129.25,131.84" fill="#33eebb"/>
<polygon points="126.59,132.79 122.70,90.51 125.11,85.55 127.47,80.23 131.87,130.90" fill="#60ee8e"/>
<polygon points="129.25,131.84 125.11,85.55 127.47,80.23 129.79,74.54 134.46,129.97" fill="#8eee60"/>
<polygon points="131.87,130.90 127.47,80.23 129.79,74.54 132.07,68.59 137.02,129.05" fill="#bbee33"/>
<polygon points="134.46,129.97 129.79,74.54 132.07,68.59 134.42,63.46 139.54,128.15" fill="#eec700"/>
<polygon points="137.02,129.05 132.07,68.59 134.42,63.46 136.90,60.19 142.03,127.25" fill="#ee9900"/>
<polygon points="139.54,128.15 134.42,63.46 136.90,60.19 139.45,58.16 142.01,56.57 146.91,125.50" fill="#ee6c00"/>
<polygon points="144.49,126.37 139.45,58.16 142.01,56.57 144.58,55.59 147.18,55.62 149.82,56.66 152.42,57.77 156.33,122.12" fill="#ee3f00"/>
<polygon points="154.02,122.95 149.82,56.66 152.42,57.77 154.95,58.32 157.42,58.48 159.86,58.53 163.09,119.69" fill="#ee6c00"/>
<polygon points="160.86,120.49 157.42,58.48 159.86,58.53 162.26,58.57 164.63,58.62 166.97,58.72 169.28,58.88 171.57,59.10 173.82,59.38 176.05,59.71 177.94,114.36" fill="#ee9900"/>
<polygon points="175.90,115.09 173.82,59.38 176.05,59.71 178.25,60.10 180.43,60.54 182.57,61.04 184.69,61.58 185.90,111.50" fill="#eec700"/>
<polygon points="183.95,112.20 182.57,61.04 184.69,61.58 186.78,62.17 188.84,62.81 190.88,63.49 191.64,109.44" fill="#e9ee06"/>
<polygon points="189.75,110.12 188.84,62.81 190.88,63.49 192.89,64.22 194.87,64.98 196.82,65.79 198.74,66.56 199.00,106.80" fill="#bbee33"/>
<polygon points="197.19,107.45 196.82,65.79 198.74,66.56 199.00,106.80" fill="#8eee60"/>
<polygon points="129.08,184.81 128.08,166.79 131.75,165.24 135.33,163.10 138.82,160.37 142.23,157.22 145.57,153.84 146.54,176.24" fill="#0011ee"/>
<polygon points="143.17,177.89 142.23,157.22 145.57,153.84 148.87,150.40 152.11,147.02 155.31,143.63 156.30,171.44" fill="#003fee"/>
<polygon points="153.10,173.01 152.11,147.02 155.31,143.63 158.47,140.13 161.57,136.41 162.54,168.38" fill="#006cee"/>
<polygon points="159.44,169.89 158.47,140.13 161.57,136.41 164.62,132.39 167.62,127.96 168.57,165.41" fill="#0099ee"/>
<polygon points="165.58,166.88 164.62,132.39 167.62,127.96 170.58,123.08 173.50,117.75 174.40,162.55" fill="#00c6ee"/>
<polygon points="171.51,163.97 170.58,123.08 173.50,117.75 176.39,112.00 177.25,161.15" fill="#06eee9"/>
<polygon points="174.40,162.55 173.50,117.75 176.39,112.00 179.25,105.85 180.05,159.77" fill="#33eebb"/>
<polygon points="177.25,161.15 176.39,112.00 179.25,105.85 182.08,99.53 182.81,158.42" fill="#60ee8e"/>
<polygon points="180.05,159.77 179.25,105.85 182.08,99.53 184.91,93.53 185.52,157.08" fill="#8eee60"/>
<polygon points="182.81,158.42 182.08,99.53 184.91,93.53 187.71,88.32 188.19,155.77" fill="#bbee33"/>
<polygon points="185.52,157.08 184.91,93.53 187.71,88.32 190.51,84.27 190.82,154.48" fill="#e9ee06"/>
<polygon points="188.19,155.77 187.71,88.32 190.51,84.27 193.28,81.56 193.41,153.20" fill="#eec700"/>
<polygon points="190.82,154.48 190.51,84.27 193.28,81.56 196.01,79.99 198.71,79.29 201.36,79.49 203.96,80.72 203.39,148.30" fill="#ee9900"/>
<polygon points="200.95,149.50 201.36,79.49 203.96,80.72 206.50,82.66 208.99,84.84 208.16,145.96" fill="#eec700"/>
<polygon points="205.79,147.12 206.50,82.66 208.99,84.84 211.43,86.86 213.82,88.52 212.79,143.68" fill="#e9ee06"/>
<polygon points="210.49,144.81 211.43,86.86 213.82,88.52 216.18,89.84 218.50,90.85 217.29,141.47" fill="#bbee33"/>
<polygon points="215.06,142.57 216.18,89.84 218.50,90.85 220.78,91.58 223.03,92.06 225.25,92.32 223.80,138.27" fill="#8eee60"/>
<polygon points="221.66,139.32 223.03,92.06 225.25,92.32 227.44,92.38 229.60,92.28 231.74,92.03 233.85,91.66 235.93,91.21 237.99,90.68 240.02,90.10 237.99,131.30" fill="#60ee8e"/>
<polygon points="236.05,132.26 237.99,90.68 240.02,90.10 242.02,89.50 244.00,88.91 245.96,88.33 247.88,87.80 249.78,87.33 251.64,86.94 253.49,86.44 250.92,124.95" fill="#33eebb"/>
<polygon points="141.45,193.91 140.89,179.88 144.57,177.39 148.16,174.12 151.66,170.25 152.25,188.18" fill="#0000d2"/>
<polygon points="148.72,190.06 148.16,174.12 151.66,170.25 155.10,165.89 158.47,161.17 159.12,184.54" fill="#0011ee"/>
<polygon points="155.72,186.34 155.10,165.89 158.47,161.17 161.79,156.20 165.06,151.09 165.75,181.02" fill="#003fee"/>
<polygon points="162.47,182.77 161.79,156.20 165.06,151.09 168.29,145.95 168.97,179.31" fill="#006cee"/>
<polygon points="165.75,181.02 165.06,151.09 168.29,145.95 171.48,140.89 174.64,136.00 175.25,175.98" fill="#0099ee"/>
<polygon points="172.14,177.63 171.48,140.89 174.64,136.00 177.76,131.33 178.31,174.36" fill="#00c6ee"/>
<polygon points="175.25,175.98 174.64,136.00 177.76,131.33 180.85,126.88 183.90,122.66 184.27,171.20" fill="#06eee9"/>
<polygon points="181.32,172.77 180.85,126.88 183.90,122.66 186.92,118.66 189.90,114.89 190.03,168.14" fill="#33eebb"/>
<polygon points="187.18,169.66 186.92,118.66 189.90,114.89 192.85,111.36 195.76,108.06 195.61,165.19" fill="#60ee8e"/>
<polygon points="192.84,166.65 192.85,111.36 195.76,108.06 198.63,105.01 201.47,102.21 201.00,162.33" fill="#8eee60"/>
<polygon points="198.32,163.74 198.63,105.01 201.47,102.21 204.27,99.66 207.03,97.38 209.75,95.37 212.42,93.62 211.27,156.87" fill="#bbee33"/>
<polygon points="208.76,158.20 209.75,95.37 212.42,93.62 215.06,92.13 217.65,90.91 220.20,89.96 222.70,89.27 225.16,88.83 227.57,88.62 229.94,88.58 232.26,88.69 234.54,88.90 232.19,145.77" fill="#e9ee06"/>
<polygon points="230.01,146.94 232.26,88.69 234.54,88.90 236.78,89.19 238.97,89.53 241.13,89.88 243.25,90.26 240.63,141.30" fill="#bbee33"/>
<polygon points="238.57,142.39 241.13,89.88 243.25,90.26 245.34,90.66 247.38,91.09 249.39,91.56 251.37,92.07 248.60,137.07" fill="#8eee60"/>
<polygon points="246.65,138.10 249.39,91.56 251.37,92.07 253.30,92.62 255.20,93.23 257.06,93.88 254.30,134.05" fill="#60ee8e"/>
<polygon points="252.43,135.04 255.20,93.23 257.06,93.88 258.89,94.60 260.68,95.37 262.43,96.21 259.77,131.15" fill="#33eebb"/>
<polygon points="257.97,132.10 260.68,95.37 262.43,96.21 264.15,97.12 265.91,97.01 263.30,129.28" fill="#06eee9"/>
<polygon points="196.06,234.07 196.18,223.13 200.01,217.39 203.78,211.73 207.47,206.20 207.10,225.92" fill="#0000d2"/>
<polygon points="203.50,228.57 203.78,211.73 207.47,206.20 211.10,200.80 214.67,195.51 214.06,220.78" fill="#0011ee"/>
<polygon points="210.61,223.32 211.10,200.80 214.67,195.51 218.17,190.32 221.62,185.22 225.01,180.19 223.95,213.47" fill="#003fee"/>
<polygon points="220.72,215.86 221.62,185.22 225.01,180.19 228.35,175.23 231.63,170.33 230.21,208.85" fill="#006cee"/>
<polygon points="227.11,211.14 228.35,175.23 231.63,170.33 234.87,165.47 238.06,160.65 236.22,204.42" fill="#0099ee"/>
<polygon points="233.24,206.61 234.87,165.47 238.06,160.65 241.20,155.87 244.30,151.15 241.99,200.16" fill="#00c6ee"/>
<polygon points="239.13,202.27 241.20,155.87 244.30,151.15 247.35,146.50 250.36,141.94 247.53,196.07" fill="#06eee9"/>
<polygon points="244.79,198.09 247.35,146.50 250.36,141.94 253.33,137.49 256.25,133.16 252.87,192.13" fill="#33eebb"/>
<polygon points="250.23,194.08 253.33,137.49 256.25,133.16 259.13,129.02 261.95,125.22 258.01,188.33" fill="#60ee8e"/>
<polygon points="255.46,190.21 259.13,129.02 261.95,125.22 264.70,121.90 267.38,119.21 262.96,184.68" fill="#8eee60"/>
<polygon points="260.50,186.49 264.70,121.90 267.38,119.21 269.97,117.21 272.47,115.83 274.89,115.01 277.23,114.69 279.49,114.80 274.57,176.10" fill="#bbee33"/>
<polygon points="272.33,177.76 277.23,114.69 279.49,114.80 281.67,115.23 283.79,115.89 285.86,116.67 287.88,117.46 283.16,169.77" fill="#8eee60"/>
<polygon points="281.07,171.31 285.86,116.67 287.88,117.46 289.86,118.17 291.81,118.70 287.24,166.75" fill="#60ee8e"/>
<polygon points="285.22,168.25 289.86,118.17 291.81,118.70 293.74,119.07 295.64,119.30 297.52,119.41 299.37,119.44 295.01,161.02" fill="#33eebb"/>
<polygon points="293.11,162.42 297.52,119.41 299.37,119.44 301.19,119.40 302.99,119.33 304.75,119.24 306.47,119.16 308.17,119.11 304.04,154.35" fill="#06eee9"/>
<polygon points="302.29,155.64 306.47,119.16 308.17,119.11 309.82,119.12 311.44,119.20 313.01,119.38 314.54,119.67 310.78,149.38" fill="#00c6ee"/>
<polygon points="309.13,150.59 313.01,119.38 314.54,119.67 316.06,119.81 317.71,118.82 314.00,147.00" fill="#0099ee"/>
<line x1="82.00" y1="148.30" x2="197.50" y2="232.50" stroke="#111" stroke-width="0.90" stroke-linecap="round"/>
<line x1="197.50" y1="232.50" x2="314.00" y2="146.50" stroke="#111" stroke-width="0.90" stroke-linecap="round"/>
<g fill="#000" font-family="Liberation Sans, Arial, Helvetica, sans-serif">
<text x="61.8" y="59.1" font-size="9.0" text-anchor="end" stroke="#000" stroke-width="0.3" >20</text>
<text x="64.1" y="82.6" font-size="9.0" text-anchor="end" stroke="#000" stroke-width="0.3" >15</text>
<text x="67.2" y="105.2" font-size="9.0" text-anchor="end" stroke="#000" stroke-width="0.3" >10</text>
<text x="69.8" y="130.1" font-size="9.0" text-anchor="end" stroke="#000" stroke-width="0.3" >5</text>
<text x="73.6" y="151.5" font-size="9.0" text-anchor="end" stroke="#000" stroke-width="0.3" >0</text>
<text x="72.9" y="161.4" font-size="8.5" text-anchor="middle" stroke="#000" stroke-width="0.3" >-20m</text>
<text x="116.5" y="193.9" font-size="8.3" text-anchor="middle" stroke="#000" stroke-width="0.3" >1m</text>
<text x="127.2" y="203.4" font-size="8.3" text-anchor="middle" stroke="#000" stroke-width="0.3" >5m</text>
<text x="182.2" y="239.1" font-size="8.5" text-anchor="middle" stroke="#000" stroke-width="0.3" >20m</text>
<text x="210.7" y="239.1" font-size="8.7" text-anchor="middle" stroke="#000" stroke-width="0.3" >Feb</text>
<text x="237.2" y="218.4" font-size="8.7" text-anchor="middle" stroke="#000" stroke-width="0.3" >Apr</text>
<text x="259.3" y="202.1" font-size="8.7" text-anchor="middle" stroke="#000" stroke-width="0.3" >Jun</text>
<text x="279.5" y="185.7" font-size="8.7" text-anchor="middle" stroke="#000" stroke-width="0.3" >Aug</text>
<text x="295.9" y="174.4" font-size="8.7" text-anchor="middle" stroke="#000" stroke-width="0.3" >Oct</text>
<text x="312.0" y="162.6" font-size="8.7" text-anchor="middle" stroke="#000" stroke-width="0.3" >Dec</text>
<text x="325.1" y="152.8" font-size="8.7" text-anchor="middle" stroke="#000" stroke-width="0.3" >Feb</text>
<text transform="translate(34.5,61) rotate(82)" font-size="14">Number of CUPs</text>
<text transform="translate(87.8,192.9) rotate(40)" font-size="14.2">Distance</text>
<text transform="translate(277.7,213.8) rotate(-41.5)" font-size="14">Month</text>
</g>
</g>
<g transform="translate(311.5,442.4)">
<line x1="68.60" y1="48.20" x2="82.00" y2="148.30" stroke="#111" stroke-width="0.90" stroke-linecap="round"/>
<line x1="68.60" y1="48.20" x2="198.50" y2="29.60" stroke="#111" stroke-width="0.90" stroke-linecap="round"/>
<line x1="198.50" y1="29.60" x2="199.00" y2="106.30" stroke="#111" stroke-width="0.90" stroke-linecap="round"/>
<line x1="198.50" y1="29.60" x2="327.20" y2="47.90" stroke="#111" stroke-width="0.90" stroke-linecap="round"/>
<line x1="327.20" y1="47.90" x2="314.00" y2="146.50" stroke="#111" stroke-width="0.90" stroke-linecap="round"/>
<line x1="82.00" y1="148.30" x2="199.00" y2="106.30" stroke="#111" stroke-width="0.90" stroke-linecap="round"/>
<line x1="199.00" y1="106.30" x2="314.00" y2="146.50" stroke="#111" stroke-width="0.90" stroke-linecap="round"/>
<line x1="82.00" y1="148.30" x2="77.90" y2="149.05" stroke="#111" stroke-width="0.80" stroke-linecap="round"/>
<line x1="78.87" y1="124.91" x2="74.77" y2="125.66" stroke="#111" stroke-width="0.80" stroke-linecap="round"/>
<line x1="75.74" y1="101.52" x2="71.64" y2="102.27" stroke="#111" stroke-width="0.80" stroke-linecap="round"/>
<line x1="72.61" y1="78.14" x2="68.51" y2="78.89" stroke="#111" stroke-width="0.80" stroke-linecap="round"/>
<line x1="69.48" y1="54.75" x2="65.38" y2="55.50" stroke="#111" stroke-width="0.80" stroke-linecap="round"/>
<line x1="68.60" y1="48.20" x2="64.10" y2="48.85" stroke="#111" stroke-width="0.90" stroke-linecap="round"/>
<polygon points="82.00,148.80 72.80,79.55 76.47,79.98 80.08,80.34 83.63,80.64 87.10,80.85 90.52,80.97 97.92,143.08" fill="#eec700"/>
<polygon points="94.83,144.19 87.10,80.85 90.52,80.97 93.86,80.98 97.15,80.88 100.37,80.65 103.52,80.29 106.62,79.78 109.66,79.11 112.63,78.28 115.55,77.28 118.42,76.13 121.24,74.85 124.01,73.48 126.75,72.03 131.87,130.90" fill="#e9ee06"/>
<polygon points="129.25,131.84 124.01,73.48 126.75,72.03 129.44,70.53 132.11,69.00 134.74,67.47 137.34,65.96 139.92,64.49 144.49,126.37" fill="#eec700"/>
<polygon points="142.03,127.25 137.34,65.96 139.92,64.49 142.47,63.08 145.00,61.76 147.51,60.53 149.99,59.40 152.46,58.38 156.33,122.12" fill="#ee9900"/>
<polygon points="154.02,122.95 149.99,59.40 152.46,58.38 154.90,57.47 157.32,56.69 159.72,56.03 162.10,55.50 164.46,55.11 166.79,54.85 169.10,54.75 171.39,54.79 173.66,55.00 175.90,55.36 177.94,114.36" fill="#ee6c00"/>
<polygon points="175.90,115.09 173.66,55.00 175.90,55.36 178.12,55.87 180.31,56.49 182.47,57.21 184.60,58.00 185.90,111.50" fill="#ee9900"/>
<polygon points="183.95,112.20 182.47,57.21 184.60,58.00 186.71,58.82 188.78,59.67 190.83,60.51 191.64,109.44" fill="#eec700"/>
<polygon points="189.75,110.12 188.78,59.67 190.83,60.51 192.84,61.32 194.83,62.08 195.36,108.11" fill="#e9ee06"/>
<polygon points="193.51,108.77 192.84,61.32 194.83,62.08 196.79,62.76 198.72,62.98 199.00,106.80" fill="#bbee33"/>
<polygon points="129.08,184.81 125.29,118.12 129.22,118.92 133.07,119.65 136.25,181.29" fill="#bbee33"/>
<polygon points="132.70,183.04 129.22,118.92 133.07,119.65 136.83,120.12 140.51,120.35 144.10,120.35 146.54,176.24" fill="#8eee60"/>
<polygon points="143.17,177.89 140.51,120.35 144.10,120.35 147.62,120.15 151.06,119.76 154.43,119.19 157.74,118.46 160.99,117.58 164.17,116.56 167.30,115.42 170.38,114.18 173.40,112.86 176.38,111.46 179.31,110.02 182.20,108.54 185.04,107.05 187.84,105.56 190.60,104.08 193.32,102.64 196.00,101.24 198.64,99.90 198.48,150.72" fill="#60ee8e"/>
<polygon points="195.97,151.95 196.00,101.24 198.64,99.90 201.25,98.62 203.82,97.40 206.35,96.24 208.85,95.15 211.31,94.11 213.74,93.15 216.13,92.25 218.48,91.41 220.80,90.64 223.09,89.95 225.35,89.32 227.56,88.77 229.75,88.27 231.90,87.83 234.02,87.43 236.11,87.06 238.17,86.71 240.20,86.37 237.99,131.30" fill="#8eee60"/>
<polygon points="236.05,132.26 238.17,86.71 240.20,86.37 242.21,86.02 244.18,85.67 246.13,85.28 248.06,84.87 249.96,84.41 251.84,83.91 253.70,83.29 250.92,124.95" fill="#60ee8e"/>
<polygon points="141.45,193.91 138.79,129.61 142.70,129.53 146.53,129.58 148.72,190.06" fill="#8eee60"/>
<polygon points="145.12,191.97 142.70,129.53 146.53,129.58 150.28,129.42 153.94,129.07 157.53,128.54 161.05,127.84 164.50,126.99 167.88,126.00 168.97,179.31" fill="#60ee8e"/>
<polygon points="165.75,181.02 164.50,126.99 167.88,126.00 171.19,124.88 174.45,123.64 177.65,122.29 180.79,120.84 183.88,119.29 184.27,171.20" fill="#33eebb"/>
<polygon points="181.32,172.77 180.79,120.84 183.88,119.29 186.92,117.62 189.91,115.82 192.85,113.86 195.75,111.75 198.61,109.46 201.43,107.04 201.00,162.33" fill="#60ee8e"/>
<polygon points="198.32,163.74 198.61,109.46 201.43,107.04 204.22,104.59 206.96,102.24 209.67,100.10 212.34,98.24 211.27,156.87" fill="#8eee60"/>
<polygon points="208.76,158.20 209.67,100.10 212.34,98.24 214.96,96.68 217.55,95.37 220.09,94.28 222.58,93.40 225.04,92.70 227.45,92.14 229.82,91.71 232.15,91.38 234.45,91.12 236.70,90.92 234.35,144.63" fill="#bbee33"/>
<polygon points="232.19,145.77 234.45,91.12 236.70,90.92 238.92,90.74 241.10,90.58 243.25,90.41 245.36,90.24 247.44,90.10 249.49,89.99 251.50,89.93 253.48,89.91 250.53,136.05" fill="#8eee60"/>
<polygon points="248.60,137.07 251.50,89.93 253.48,89.91 255.42,89.97 257.33,90.10 259.20,90.33 261.03,90.65 262.89,90.22 259.77,131.15" fill="#60ee8e"/>
<polygon points="257.97,132.10 261.03,90.65 262.89,90.22 264.75,89.51 266.59,88.81 263.30,129.28" fill="#33eebb"/>
<polygon points="196.06,234.07 196.57,190.73 200.41,190.14 204.16,189.35 207.82,188.42 211.40,187.41 214.89,186.28 214.06,220.78" fill="#006cee"/>
<polygon points="210.61,223.32 211.40,187.41 214.89,186.28 218.31,185.34 221.63,184.84 224.86,184.75 228.00,185.27 227.11,211.14" fill="#003fee"/>
<polygon points="223.95,213.47 224.86,184.75 228.00,185.27 231.05,185.86 234.03,186.38 237.02,184.97 236.22,204.42" fill="#0011ee"/>
<polygon points="233.24,206.61 234.03,186.38 237.02,184.97 239.97,183.24 242.88,180.96 245.78,177.84 248.63,174.73 247.53,196.07" fill="#0000d2"/>
<polygon points="244.79,198.09 245.78,177.84 248.63,174.73 251.45,171.45 254.24,167.87 257.03,163.80 255.46,190.21" fill="#0011ee"/>
<polygon points="252.87,192.13 254.24,167.87 257.03,163.80 259.81,159.16 262.65,153.20 260.50,186.49" fill="#003fee"/>
<polygon points="258.01,188.33 259.81,159.16 262.65,153.20 265.36,148.91 267.85,147.16 265.36,182.90" fill="#006cee"/>
<polygon points="262.96,184.68 265.36,148.91 267.85,147.16 270.21,146.79 267.73,181.16" fill="#0099ee"/>
<polygon points="265.36,182.90 267.85,147.16 270.21,146.79 272.38,148.20 274.38,151.12 272.33,177.76" fill="#006cee"/>
<polygon points="270.05,179.44 272.38,148.20 274.38,151.12 276.54,151.28 278.87,148.89 281.23,145.68 283.62,141.93 281.07,171.31" fill="#003fee"/>
<polygon points="278.94,172.88 281.23,145.68 283.62,141.93 285.82,140.09 287.94,138.61 289.99,137.69 291.94,137.30 293.85,136.99 295.74,136.55 293.11,162.42" fill="#006cee"/>
<polygon points="291.19,163.84 293.85,136.99 295.74,136.55 297.60,136.15 299.42,135.72 301.22,135.22 302.99,134.70 304.73,134.13 306.47,133.44 304.04,154.35" fill="#003fee"/>
<polygon points="302.29,155.64 304.73,134.13 306.47,133.44 308.18,132.68 309.87,131.90 311.54,131.02 313.21,129.98 314.87,128.88 316.50,127.81 314.00,147.00" fill="#0011ee"/>
<line x1="82.00" y1="148.30" x2="197.50" y2="232.50" stroke="#111" stroke-width="0.90" stroke-linecap="round"/>
<line x1="197.50" y1="232.50" x2="314.00" y2="146.50" stroke="#111" stroke-width="0.90" stroke-linecap="round"/>
<g fill="#000" font-family="Liberation Sans, Arial, Helvetica, sans-serif">
<text x="61.8" y="59.1" font-size="9.0" text-anchor="end" stroke="#000" stroke-width="0.3" >20</text>
<text x="64.1" y="82.6" font-size="9.0" text-anchor="end" stroke="#000" stroke-width="0.3" >15</text>
<text x="67.2" y="105.2" font-size="9.0" text-anchor="end" stroke="#000" stroke-width="0.3" >10</text>
<text x="69.8" y="130.1" font-size="9.0" text-anchor="end" stroke="#000" stroke-width="0.3" >5</text>
<text x="73.6" y="151.5" font-size="9.0" text-anchor="end" stroke="#000" stroke-width="0.3" >0</text>
<text x="72.9" y="161.4" font-size="8.5" text-anchor="middle" stroke="#000" stroke-width="0.3" >-20m</text>
<text x="116.5" y="193.9" font-size="8.3" text-anchor="middle" stroke="#000" stroke-width="0.3" >1m</text>
<text x="127.2" y="203.4" font-size="8.3" text-anchor="middle" stroke="#000" stroke-width="0.3" >5m</text>
<text x="180.0" y="241.7" font-size="8.5" text-anchor="middle" stroke="#000" stroke-width="0.3" >20m</text>
<text x="210.7" y="239.1" font-size="8.7" text-anchor="middle" stroke="#000" stroke-width="0.3" >Feb</text>
<text x="237.2" y="218.4" font-size="8.7" text-anchor="middle" stroke="#000" stroke-width="0.3" >Apr</text>
<text x="259.3" y="202.1" font-size="8.7" text-anchor="middle" stroke="#000" stroke-width="0.3" >Jun</text>
<text x="279.5" y="185.7" font-size="8.7" text-anchor="middle" stroke="#000" stroke-width="0.3" >Aug</text>
<text x="295.9" y="174.4" font-size="8.7" text-anchor="middle" stroke="#000" stroke-width="0.3" >Oct</text>
<text x="312.0" y="162.6" font-size="8.7" text-anchor="middle" stroke="#000" stroke-width="0.3" >Dec</text>
<text x="325.1" y="152.8" font-size="8.7" text-anchor="middle" stroke="#000" stroke-width="0.3" >Feb</text>
<text transform="translate(34.5,61) rotate(82)" font-size="14">Number of CUPs</text>
<text transform="translate(87.8,192.9) rotate(40)" font-size="14.2">Distance</text>
<text transform="translate(277.7,213.8) rotate(-41.5)" font-size="14">Month</text>
</g>
</g>
<g>
<rect x="655.20" y="214.70" width="9.55" height="10.44" fill="#800000"/>
<rect x="655.20" y="224.84" width="9.55" height="10.44" fill="#b00000"/>
<rect x="655.20" y="234.97" width="9.55" height="10.44" fill="#e10000"/>
<rect x="655.20" y="245.11" width="9.55" height="10.44" fill="#ff1200"/>
<rect x="655.20" y="255.25" width="9.55" height="10.44" fill="#ff4300"/>
<rect x="655.20" y="265.38" width="9.55" height="10.44" fill="#ff7300"/>
<rect x="655.20" y="275.52" width="9.55" height="10.44" fill="#ffa400"/>
<rect x="655.20" y="285.65" width="9.55" height="10.44" fill="#ffd500"/>
<rect x="655.20" y="295.79" width="9.55" height="10.44" fill="#f9ff06"/>
<rect x="655.20" y="305.93" width="9.55" height="10.44" fill="#c8ff37"/>
<rect x="655.20" y="316.06" width="9.55" height="10.44" fill="#98ff67"/>
<rect x="655.20" y="326.20" width="9.55" height="10.44" fill="#67ff98"/>
<rect x="655.20" y="336.34" width="9.55" height="10.44" fill="#37ffc8"/>
<rect x="655.20" y="346.47" width="9.55" height="10.44" fill="#06fff9"/>
<rect x="655.20" y="356.61" width="9.55" height="10.44" fill="#00d4ff"/>
<rect x="655.20" y="366.75" width="9.55" height="10.44" fill="#00a4ff"/>
<rect x="655.20" y="376.88" width="9.55" height="10.44" fill="#0073ff"/>
<rect x="655.20" y="387.02" width="9.55" height="10.44" fill="#0043ff"/>
<rect x="655.20" y="397.15" width="9.55" height="10.44" fill="#0012ff"/>
<rect x="655.20" y="407.29" width="9.55" height="10.44" fill="#0000e1"/>
<rect x="655.20" y="417.43" width="9.55" height="10.44" fill="#0000b0"/>
<rect x="655.20" y="427.56" width="9.55" height="10.14" fill="#000080"/>
<line x1="664.75" y1="219.77" x2="668.95" y2="219.77" stroke="#444" stroke-width="0.9"/>
<text transform="translate(669.5,223.77) scale(0.9,1)" font-size="11.3" fill="#111" font-family="Liberation Sans, Arial, Helvetica, sans-serif">21</text>
<line x1="664.75" y1="229.90" x2="668.95" y2="229.90" stroke="#444" stroke-width="0.9"/>
<text transform="translate(669.5,233.90) scale(0.9,1)" font-size="11.3" fill="#111" font-family="Liberation Sans, Arial, Helvetica, sans-serif">20</text>
<line x1="664.75" y1="240.04" x2="668.95" y2="240.04" stroke="#444" stroke-width="0.9"/>
<text transform="translate(669.5,244.04) scale(0.9,1)" font-size="11.3" fill="#111" font-family="Liberation Sans, Arial, Helvetica, sans-serif">19</text>
<line x1="664.75" y1="250.18" x2="668.95" y2="250.18" stroke="#444" stroke-width="0.9"/>
<text transform="translate(669.5,254.18) scale(0.9,1)" font-size="11.3" fill="#111" font-family="Liberation Sans, Arial, Helvetica, sans-serif">18</text>
<line x1="664.75" y1="260.31" x2="668.95" y2="260.31" stroke="#444" stroke-width="0.9"/>
<text transform="translate(669.5,264.31) scale(0.9,1)" font-size="11.3" fill="#111" font-family="Liberation Sans, Arial, Helvetica, sans-serif">17</text>
<line x1="664.75" y1="270.45" x2="668.95" y2="270.45" stroke="#444" stroke-width="0.9"/>
<text transform="translate(669.5,274.45) scale(0.9,1)" font-size="11.3" fill="#111" font-family="Liberation Sans, Arial, Helvetica, sans-serif">16</text>
<line x1="664.75" y1="280.59" x2="668.95" y2="280.59" stroke="#444" stroke-width="0.9"/>
<text transform="translate(669.5,284.59) scale(0.9,1)" font-size="11.3" fill="#111" font-family="Liberation Sans, Arial, Helvetica, sans-serif">15</text>
<line x1="664.75" y1="290.72" x2="668.95" y2="290.72" stroke="#444" stroke-width="0.9"/>
<text transform="translate(669.5,294.72) scale(0.9,1)" font-size="11.3" fill="#111" font-family="Liberation Sans, Arial, Helvetica, sans-serif">14</text>
<line x1="664.75" y1="300.86" x2="668.95" y2="300.86" stroke="#444" stroke-width="0.9"/>
<text transform="translate(669.5,304.86) scale(0.9,1)" font-size="11.3" fill="#111" font-family="Liberation Sans, Arial, Helvetica, sans-serif">13</text>
<line x1="664.75" y1="311.00" x2="668.95" y2="311.00" stroke="#444" stroke-width="0.9"/>
<text transform="translate(669.5,315.00) scale(0.9,1)" font-size="11.3" fill="#111" font-family="Liberation Sans, Arial, Helvetica, sans-serif">12</text>
<line x1="664.75" y1="321.13" x2="668.95" y2="321.13" stroke="#444" stroke-width="0.9"/>
<text transform="translate(669.5,325.13) scale(0.9,1)" font-size="11.3" fill="#111" font-family="Liberation Sans, Arial, Helvetica, sans-serif">11</text>
<line x1="664.75" y1="331.27" x2="668.95" y2="331.27" stroke="#444" stroke-width="0.9"/>
<text transform="translate(669.5,335.27) scale(0.9,1)" font-size="11.3" fill="#111" font-family="Liberation Sans, Arial, Helvetica, sans-serif">10</text>
<line x1="664.75" y1="341.40" x2="668.95" y2="341.40" stroke="#444" stroke-width="0.9"/>
<text transform="translate(669.5,345.40) scale(0.9,1)" font-size="11.3" fill="#111" font-family="Liberation Sans, Arial, Helvetica, sans-serif">9</text>
<line x1="664.75" y1="351.54" x2="668.95" y2="351.54" stroke="#444" stroke-width="0.9"/>
<text transform="translate(669.5,355.54) scale(0.9,1)" font-size="11.3" fill="#111" font-family="Liberation Sans, Arial, Helvetica, sans-serif">8</text>
<line x1="664.75" y1="361.68" x2="668.95" y2="361.68" stroke="#444" stroke-width="0.9"/>
<text transform="translate(669.5,365.68) scale(0.9,1)" font-size="11.3" fill="#111" font-family="Liberation Sans, Arial, Helvetica, sans-serif">7</text>
<line x1="664.75" y1="371.81" x2="668.95" y2="371.81" stroke="#444" stroke-width="0.9"/>
<text transform="translate(669.5,375.81) scale(0.9,1)" font-size="11.3" fill="#111" font-family="Liberation Sans, Arial, Helvetica, sans-serif">6</text>
<line x1="664.75" y1="381.95" x2="668.95" y2="381.95" stroke="#444" stroke-width="0.9"/>
<text transform="translate(669.5,385.95) scale(0.9,1)" font-size="11.3" fill="#111" font-family="Liberation Sans, Arial, Helvetica, sans-serif">5</text>
<line x1="664.75" y1="392.09" x2="668.95" y2="392.09" stroke="#444" stroke-width="0.9"/>
<text transform="translate(669.5,396.09) scale(0.9,1)" font-size="11.3" fill="#111" font-family="Liberation Sans, Arial, Helvetica, sans-serif">4</text>
<line x1="664.75" y1="402.22" x2="668.95" y2="402.22" stroke="#444" stroke-width="0.9"/>
<text transform="translate(669.5,406.22) scale(0.9,1)" font-size="11.3" fill="#111" font-family="Liberation Sans, Arial, Helvetica, sans-serif">3</text>
<line x1="664.75" y1="412.36" x2="668.95" y2="412.36" stroke="#444" stroke-width="0.9"/>
<text transform="translate(669.5,416.36) scale(0.9,1)" font-size="11.3" fill="#111" font-family="Liberation Sans, Arial, Helvetica, sans-serif">2</text>
<line x1="664.75" y1="422.50" x2="668.95" y2="422.50" stroke="#444" stroke-width="0.9"/>
<text transform="translate(669.5,426.50) scale(0.9,1)" font-size="11.3" fill="#111" font-family="Liberation Sans, Arial, Helvetica, sans-serif">1</text>
<line x1="664.75" y1="432.63" x2="668.95" y2="432.63" stroke="#444" stroke-width="0.9"/>
<text transform="translate(669.5,436.63) scale(0.9,1)" font-size="11.3" fill="#111" font-family="Liberation Sans, Arial, Helvetica, sans-serif">0</text>
</g>
<g fill="#111" font-family="Liberation Sans, Arial, Helvetica, sans-serif" font-size="19.2">
<text x="193.4" y="14.9" text-anchor="middle">Vegetation</text>
<text x="507.8" y="14.9" text-anchor="middle">Soil</text>
<text transform="translate(16,123.5) rotate(-90)" text-anchor="middle" font-size="19.35" letter-spacing="0.00">Arable crops</text>
<text transform="translate(16,346.4) rotate(-90)" text-anchor="middle" font-size="19.35" letter-spacing="0.32">Vegetables</text>
<text transform="translate(16,571.2) rotate(-90)" text-anchor="middle" font-size="19.35" letter-spacing="0.34">Viticulture</text>
</g>
</svg></body></html>
